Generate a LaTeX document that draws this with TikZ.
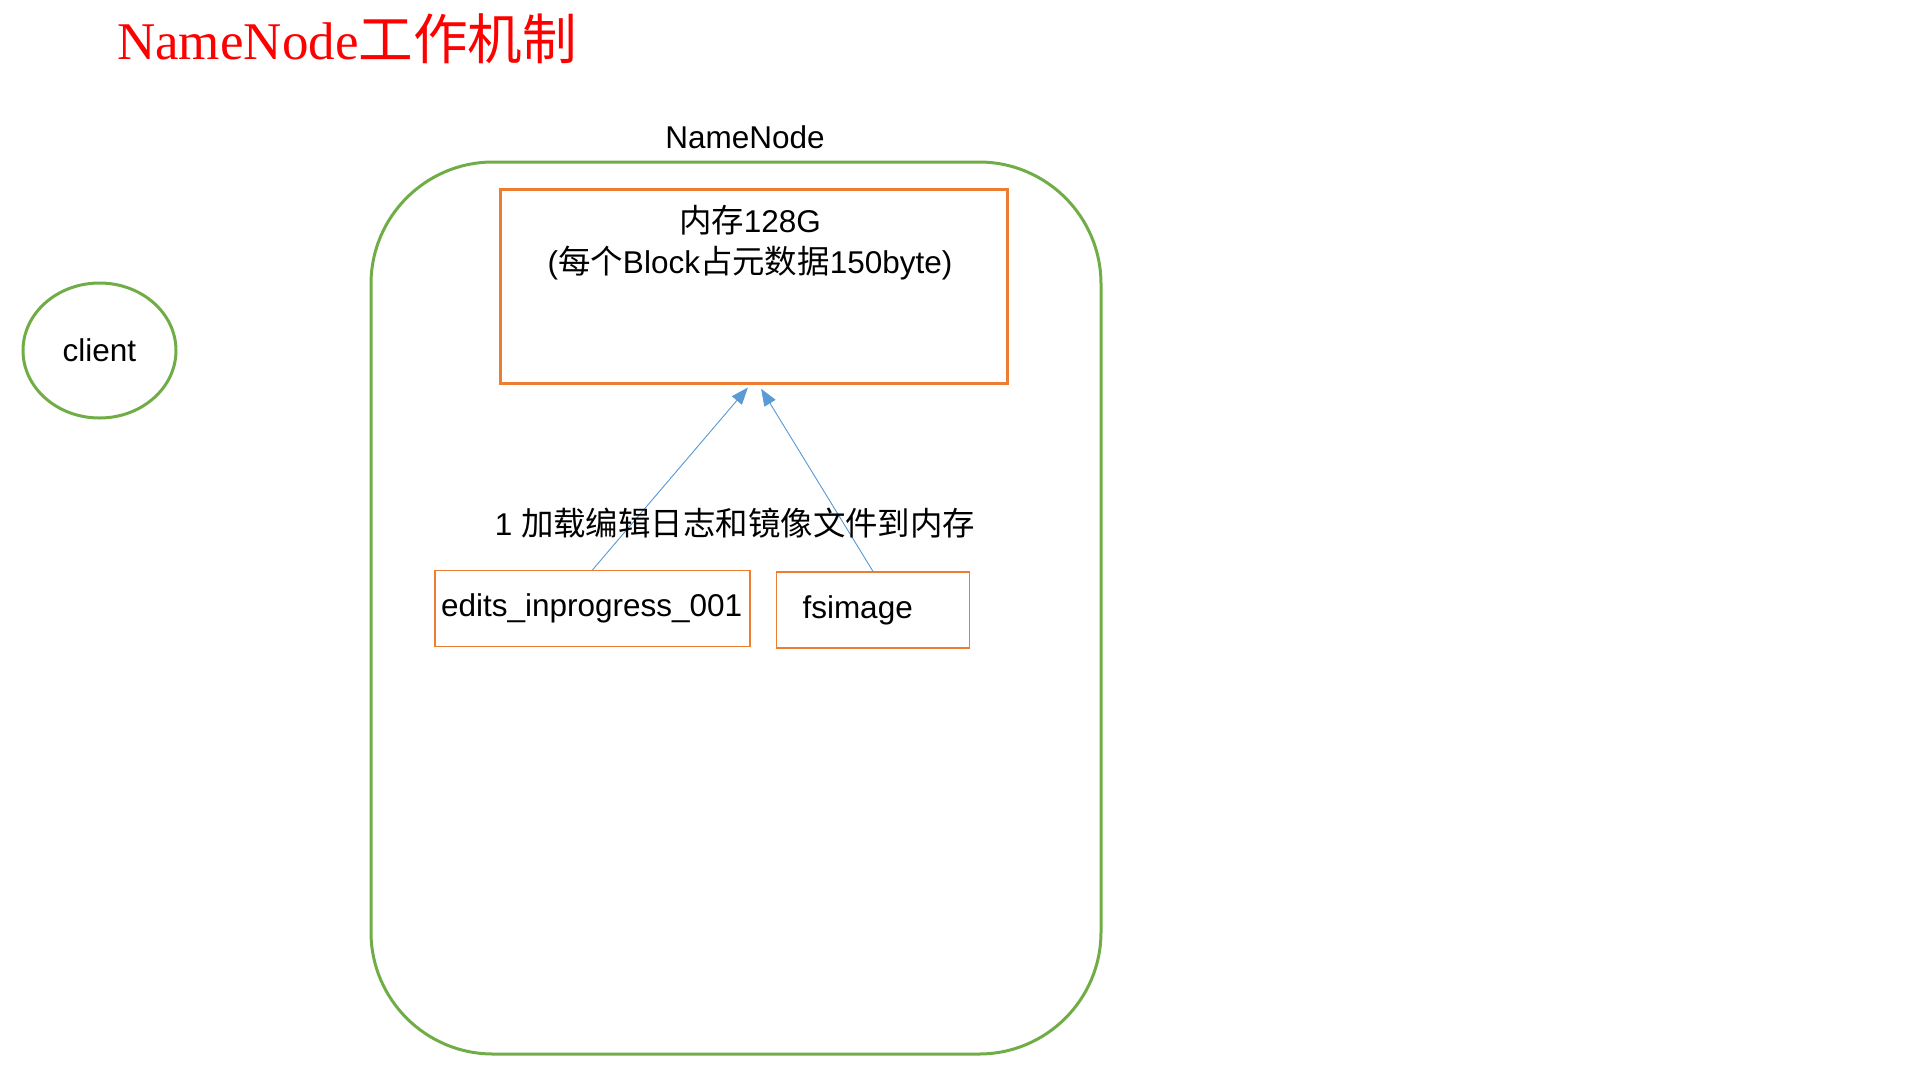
\documentclass[tikz,border=0pt]{standalone}
\usepackage{fontspec}
\setmainfont{Liberation Sans}
\newfontfamily\titlefont{Liberation Serif}
\newfontfamily\cjk[Scale=1.03]{Noto Sans CJK SC}
\usetikzlibrary{shapes.geometric,arrows.meta,positioning}
\newcommand{\zh}[1]{{\cjk #1}}
\definecolor{nngreen}{HTML}{70AD47}
\definecolor{nnorange}{HTML}{ED7D31}
\definecolor{nnblue}{HTML}{5B9BD5}

\begin{document}
\begin{tikzpicture}[x=1pt,y=-1pt,font=\fontsize{31.5}{41}\selectfont,>={Triangle[length=17pt,width=13pt]}]
	
	% Styles for the boxes
	\tikzset{
		nodebox/.style={rectangle,draw=nngreen,line width=3pt,rounded corners=122pt,minimum width=730pt,minimum height=892pt},
		membox/.style={rectangle,draw=nnorange,line width=3pt,minimum width=507pt,minimum height=194pt},
		filebox/.style={rectangle,draw=nnorange,line width=1.2pt,minimum height=76pt,align=left},
		load/.style={->,draw=nnblue,fill=nnblue,line width=0.9pt}
	}
	
	\useasboundingbox (0,0) rectangle (1920,1080);
	
	% Title
	\node[anchor=base west,inner sep=0,text=red,font=\fontsize{53}{60}\selectfont] (title) at (117,59)
	{\titlefont NameNode\zh{工作机制}};
	
	%========================================
	% Client
	%========================================
	\node[ellipse,draw=nngreen,line width=3pt,minimum width=153pt,minimum height=135pt] (client) at (99.5,350.5) {\raisebox{-3pt}{client}};
	
	%========================================
	% NameNode with memory and files
	%========================================
	\node[nodebox] (nn) at (736,608) {};
	\node[anchor=base,inner sep=0] (nnlabel) at (745,148) {NameNode};
	
	% Memory
	\node[membox] (mem) at (753.5,286) {};
	\node[anchor=base,inner sep=0,align=center] (memtext) at (750,273)
	{\zh{内存}128G\\(\zh{每个}Block\zh{占元数据}150byte)};
	
	% Files on disk
	\node[filebox,text width=303pt,inner xsep=6pt] (edits) at (592.5,608.5) {edits\_inprogress\_001};
	\node[filebox,text width=141pt,inner xsep=26pt] (fsimg) at (873,610) {fsimage};
	
	% Loading into memory
	\draw[load,shorten >=4pt] (edits.north) -- ([xshift=-3pt]mem.south);
	\draw[load,shorten >=5pt] (fsimg.north) -- ([xshift=5pt]mem.south);
	\node[anchor=base,inner sep=0] (loadtext) at (735,535) {1 \zh{加载编辑日志和镜像文件到内存}};
	
\end{tikzpicture}
\end{document}
